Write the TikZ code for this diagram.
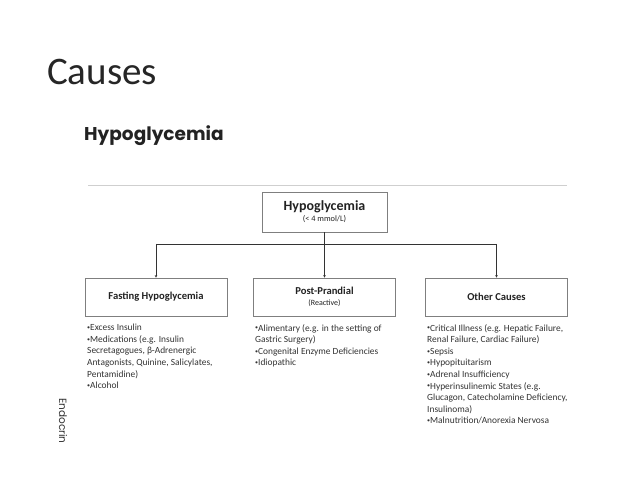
\documentclass[tikz,border=0pt]{standalone}
\usepackage{fontspec}
\setmainfont{Carlito}
\newfontfamily\geofont{Poppins}
\usetikzlibrary{arrows.meta,positioning}
\definecolor{inkdark}{HTML}{222222}
\definecolor{inktext}{HTML}{333333}
\definecolor{framegray}{HTML}{7F7F7F}
\definecolor{rulegray}{HTML}{CFCFCF}
\newcommand{\causedot}{\raisebox{0.25ex}{\fontsize{6}{6}\selectfont\textbullet}}

\tikzset{
  causebox/.style={draw=framegray,line width=0.8pt,minimum width=142pt,minimum height=38pt,
    inner sep=0pt,align=center,text=inkdark},
  bullets/.style={anchor=north west,align=left,inner sep=0pt,text=inktext,
    font=\fontsize{9.4}{11.6}\selectfont},
  link/.style={draw=inktext,line width=0.6pt},
  linkarrow/.style={link,-{Stealth[length=2.5pt,width=2.5pt]}}
}

\begin{document}
\begin{tikzpicture}[x=1pt,y=-1pt]
\useasboundingbox[fill=white] (0,0) rectangle (638,478);
\node[anchor=base west,inner sep=0pt,text=black!85,font=\fontsize{39}{39}\selectfont] (slidetitle) at (47,85) {Causes};
\node[anchor=base west,inner sep=0pt,text=inkdark,font=\geofont\bfseries\fontsize{18.5}{18.5}\selectfont] (heading) at (84,141) {Hypoglycemia};
\draw[rulegray,line width=0.8pt] (88,185) coordinate (rulestart) -- (567,185) coordinate (ruleend);

\node[causebox,minimum width=125pt,minimum height=40pt] (root) at (324.5,212)
  {{\bfseries\fontsize{14}{15}\selectfont Hypoglycemia}\\[-1pt]{\fontsize{8.3}{9}\selectfont (< 4 mmol/L)}};
\node[causebox] (fasting) at (156,297) {\bfseries\fontsize{10.6}{12}\selectfont Fasting Hypoglycemia};
\node[causebox] (postprandial) at (324.5,297)
  {{\bfseries\fontsize{10.6}{12}\selectfont Post-Prandial}\\[-1pt]{\fontsize{8}{9}\selectfont (Reactive)}};
\node[causebox] (other) at (496.5,297) {\bfseries\fontsize{10.6}{12}\selectfont Other Causes};

\coordinate (split) at (324.5,244);
\coordinate (fastingbar) at (fasting.north |- split);
\coordinate (otherbar) at (other.north |- split);
\draw[link] (root.south) -- (split);
\draw[link] (fastingbar) -- (otherbar);
\draw[linkarrow] (fastingbar) -- (fasting.north);
\draw[linkarrow] (split) -- (postprandial.north);
\draw[linkarrow] (otherbar) -- (other.north);

\node[bullets] (fastinglist) at (87,324) {\causedot Excess Insulin\\
  \causedot Medications (e.g. Insulin\\
  Secretagogues, β-Adrenergic\\
  Antagonists, Quinine, Salicylates,\\
  Pentamidine)\\
  \causedot Alcohol};
\node[bullets] (postlist) at (255,324) {\causedot Alimentary (e.g. in the setting of\\
  Gastric Surgery)\\
  \causedot Congenital Enzyme Deficiencies\\
  \causedot Idiopathic};
\node[bullets] (otherlist) at (427,324) {\causedot Critical Illness (e.g. Hepatic Failure,\\
  Renal Failure, Cardiac Failure)\\
  \causedot Sepsis\\
  \causedot Hypopituitarism\\
  \causedot Adrenal Insufficiency\\
  \causedot Hyperinsulinemic States (e.g.\\
  Glucagon, Catecholamine Deficiency,\\
  Insulinoma)\\
  \causedot Malnutrition/Anorexia Nervosa};

\node[rotate=-90,anchor=west,inner sep=0pt,text=inktext,font=\geofont\fontsize{10.5}{11}\selectfont] (logo) at (63,398) {Endocrin};
\end{tikzpicture}
\end{document}
